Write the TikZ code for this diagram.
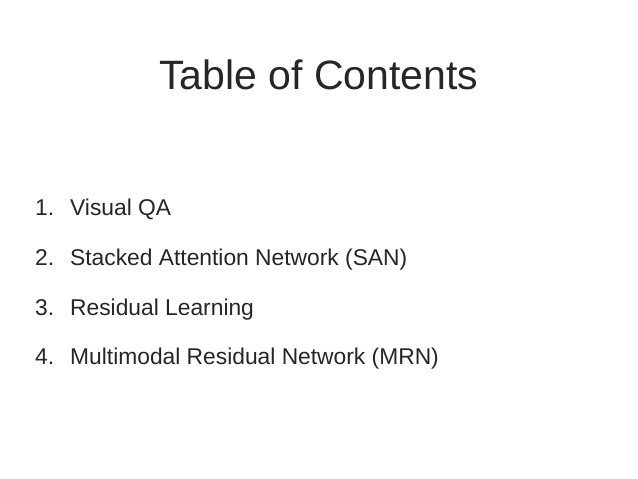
\documentclass[tikz,border=0pt]{standalone}
\usepackage{fontspec}
\setmainfont{Liberation Sans}
\begin{document}
\begin{tikzpicture}[x=1pt,y=-1pt,
  item/.style={anchor=base west,inner sep=0pt,font=\fontsize{22.8}{26}\selectfont,text=black!85},
  title/.style={anchor=base,inner sep=0pt,font=\fontsize{41}{46}\selectfont,text=black!85}]
\useasboundingbox[fill=white] (0,0) rectangle (638,479);
\node[title] (t) at (319,89) {Table of Contents};
\node[item] (n1) at (35,215) {1.};
\node[item] (i1) at (70,215) {Visual QA};
\node[item] (n2) at (35,265) {2.};
\node[item] (i2) at (70,265) {Stacked Attention Network (SAN)};
\node[item] (n3) at (35,315) {3.};
\node[item] (i3) at (70,315) {Residual Learning};
\node[item] (n4) at (35,364) {4.};
\node[item] (i4) at (70,364) {Multimodal Residual Network (MRN)};
\end{tikzpicture}
\end{document}
